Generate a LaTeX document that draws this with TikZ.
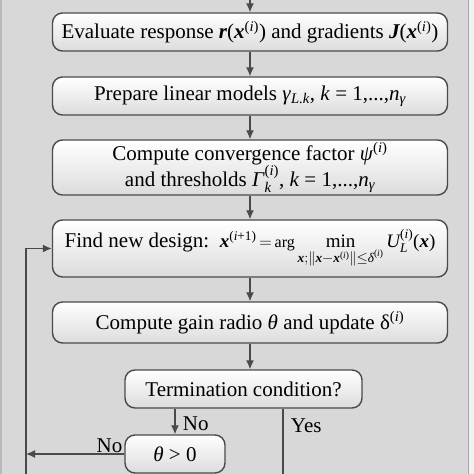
\documentclass[tikz,border=0pt]{standalone}
\usepackage{amsmath}
\usepackage{fontspec}
\setmainfont{Liberation Serif}
\usetikzlibrary{arrows.meta,positioning}
\definecolor{panel}{HTML}{D8D8D8}
\definecolor{edgec}{HTML}{4A4A4A}
\definecolor{boxb}{HTML}{DCDCDC}
% italic and bold italic symbols in the text face
\newcommand{\vi}[1]{\text{\normalfont\itshape #1}}
\newcommand{\vb}[1]{\text{\normalfont\bfseries\itshape #1}}
\newcommand{\tx}[1]{\text{\normalfont #1}}
\tikzset{
  box_/.style  = {shape=rectangle, rounded corners=10pt, draw=edgec, line width=1.4pt,
                  top color=white, bottom color=boxb, align=center,
                  minimum width=395pt, inner sep=2pt},
  test_/.style = {box_, minimum width=100pt},
  arr_/.style  = {draw=edgec, line width=1.3pt, -{Latex[length=9pt,width=8pt]}},
  line_/.style = {draw=edgec, line width=1.3pt}
}

\begin{document}
\begin{tikzpicture}
	[
	x = 1pt, y = -1pt,
	every node/.style = {font=\fontsize{21}{26}\selectfont}
	]
	% background panel
	\useasboundingbox (0,0) rectangle (474,474);
	\clip (0,0) rectangle (474,474);
	\fill[panel] (0,0) rectangle (474,474);
	\fill[gray!55] (0,0) rectangle (2,474);
	\fill[gray!12] (469,0) rectangle (474,474);
	\draw[gray!70, line width=1.2pt] (468.6,0) -- (468.6,474);

	% steps
	\node [box_, minimum height=38pt] (eval) at (250,32)
		{Evaluate response $\vb{r}\tx{(}\vb{x}^{\tx{(}\vi{i}\tx{)}}\tx{)}$ and gradients $\vb{J}\tx{(}\vb{x}^{\tx{(}\vi{i}\tx{)}}\tx{)}$};
	\node [box_, minimum height=38pt] (prep) at (250,96)
		{Prepare linear models \textit{γ}$_{\vi{L.k}}$, \textit{k} = 1,...,\textit{n}$_{\vi{γ}}$};
	\node [box_, minimum height=55pt] (conv) at (250,167.5)
		{Compute convergence factor \textit{ψ}$^{\tx{(}\vi{i}\tx{)}}$\\
		 and thresholds \textit{Γ}$_{\vi{k}}^{\tx{(}\vi{i}\tx{)}}$, \textit{k} = 1,...,\textit{n}$_{\vi{γ}}$};
	\node [box_, minimum height=57pt] (find) at (250,248.5)
		{Find new design:\enspace {\fontsize{19}{22}\selectfont\thickmuskip=3mu $\vb{x}^{\tx{(}\vi{i}\tx{+1)}} = {\fontsize{16}{20}\selectfont\tx{arg}}\mathop{\tx{min}}\limits_{\vb{x};\|\vb{x}-\vb{x}^{\tx{(}\vi{i}\tx{)}}\|\le\vi{δ}^{\tx{(}\vi{i}\tx{)}}} \vi{U}_{\vi{L}}^{\tx{(}\vi{i}\tx{)}}\tx{(}\vb{x}\tx{)}$}};
	\node [box_, minimum height=41pt] (gain) at (250,322.5)
		{Compute gain radio \textit{θ} and update δ$^{\tx{(}\vi{i}\tx{)}}$};
	\node [box_, minimum width=237pt, minimum height=38pt] (term) at (243.5,389)
		{Termination condition?};
	\node [test_, minimum height=38pt] (pos) at (175,454) {\textit{θ} > 0};

	% loose ends
	\coordinate (start) at (250,-2);
	\coordinate (yesend) at (283,480);
	\coordinate (loopb) at (26,480);

	% connectors
	\draw [arr_] (start) -- (eval);
	\draw [arr_] (eval) -- (prep);
	\draw [arr_] (prep) -- (conv);
	\draw [arr_] (conv) -- (find);
	\draw [arr_] (find) -- (gain);
	\draw [arr_] (gain) -- (gain |- term.north);
	\draw [arr_] (pos.north |- term.south) -- node [pos=0.6, right=4pt] {No} (pos.north);
	\draw [line_] (term.south -| yesend) -- node [pos=0.24, right=4pt] {Yes} (yesend);
	\draw [arr_] (pos.west) -- node [pos=0.15, above=-3pt] {No} (pos.west -| loopb);
	\draw [arr_] (loopb) -- (loopb |- find.west) -- (find.west);
\end{tikzpicture}
\end{document}
